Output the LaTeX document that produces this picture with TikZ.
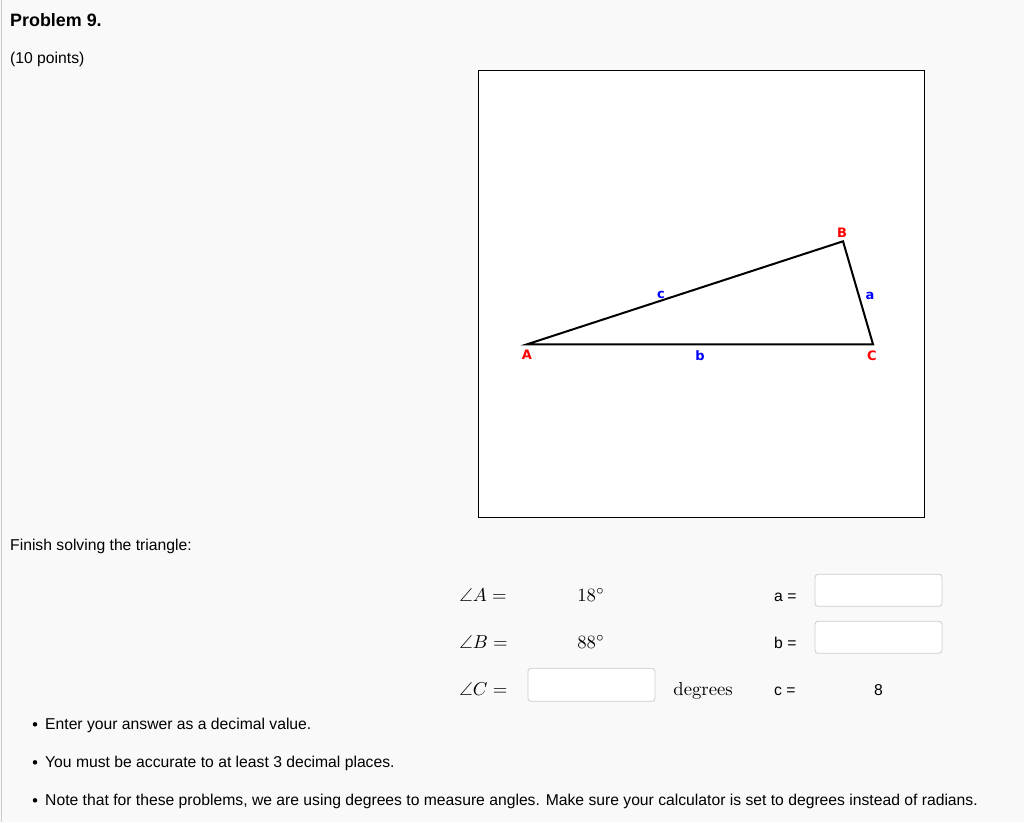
\documentclass[tikz,border=0pt]{standalone}
\usepackage{amsmath}
\usepackage{amssymb}
\usepackage{fontspec}
\setmainfont{Liberation Sans}
\newfontfamily\labelfont{DejaVu Sans}
\newfontfamily\cmfont{Latin Modern Roman}
\usetikzlibrary{positioning}

\definecolor{pagebg}{HTML}{F9F9F9}
\definecolor{boxline}{HTML}{CCCCCC}
\definecolor{vertred}{HTML}{FF0000}
\definecolor{sideblue}{HTML}{0000FF}

\begin{document}
\begin{tikzpicture}[x=1pt, y=-1pt,
  txt/.style={anchor=base west, inner sep=0pt, font=\fontsize{15.7}{18}\selectfont},
  mathtxt/.style={anchor=base west, inner sep=0pt, scale=1.87, font=\cmfont\fontsize{10}{12}\selectfont},
  inbox/.style={draw=boxline, fill=white, rounded corners=3pt, line width=0.8pt},
  vert/.style={text=vertred, inner sep=0pt, font=\labelfont\bfseries\fontsize{13}{13}\selectfont},
  side/.style={text=sideblue, inner sep=0pt, font=\labelfont\bfseries\fontsize{13}{13}\selectfont},
  bul/.style={circle, fill=black, inner sep=0pt, minimum size=4.5pt}]

% Page
\fill[pagebg] (0,0) rectangle (1024,822);
\draw[boxline, line width=0.6pt] (1,0) -- (1,822);
\useasboundingbox (0,0) rectangle (1024,822);

% Heading
\node[txt, font=\bfseries\fontsize{17.9}{20}\selectfont] (title) at (10,26) {Problem 9.};
\node[txt] (points) at (10,63) {(10 points)};

% Figure frame and triangle
\draw[fill=white, line width=1pt] (478,70) rectangle (924,517);
\coordinate (A) at (527,344);
\coordinate (B) at (843,241);
\coordinate (C) at (873,344);
\draw[line width=2pt] (A) -- (B) -- (C) -- cycle;

% Vertex and side labels
\node[vert] (lA) at (527,354) {A};
\node[vert] (lB) at (842,232) {B};
\node[vert] (lC) at (872,355) {C};
\node[side] (la) at (870,296) {a};
\node[side] (lb) at (700,355) {b};
\node[side] (lc) at (661,295) {c};

% Task
\node[txt] (task) at (10,550) {Finish solving the triangle:};

\node[mathtxt] (angA) at (459,601) {$\angle A =$};
\node[mathtxt] (angB) at (459,648) {$\angle B =$};
\node[mathtxt] (angC) at (459,695) {$\angle C =$};
\node[mathtxt] (valA) at (577,601) {$18^\circ$};
\node[mathtxt] (valB) at (577,648) {$88^\circ$};
\draw[inbox] (528,668) rectangle (655,701);
\node[mathtxt] (deg) at (673,695) {degrees};

\node[txt] (sa) at (774,601) {a =};
\node[txt] (sb) at (774,648) {b =};
\node[txt] (sc) at (774,695) {c =};
\draw[inbox] (815,574) rectangle (942,606);
\draw[inbox] (815,621) rectangle (942,653);
\node[txt] (valc) at (874,695) {8};

% Notes
\node[bul] (b1) at (35,724) {};
\node[txt] (n1) at (45,729) {Enter your answer as a decimal value.};
\node[bul] (b2) at (35,762) {};
\node[txt] (n2) at (45,767) {You must be accurate to at least 3 decimal places.};
\node[bul] (b3) at (35,800) {};
\node[txt] (n3) at (45,805) {Note that for these problems, we are using degrees to measure angles. Make sure your calculator is set to degrees instead of radians.};

\end{tikzpicture}
\end{document}
